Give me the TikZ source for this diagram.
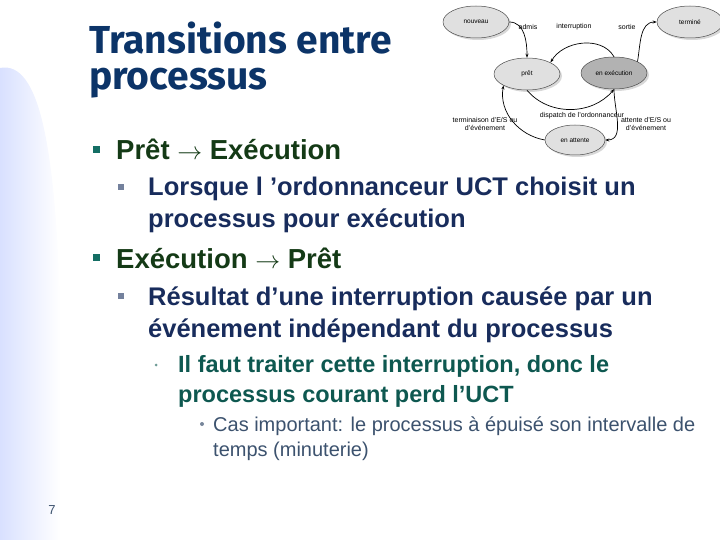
\documentclass[tikz,border=0pt]{standalone}
\usepackage{fontspec}
\setmainfont{Liberation Sans}
\newfontfamily\titlefont{Fira Sans}
\usetikzlibrary{shapes.geometric,arrows.meta,shadows}
\definecolor{titleblue}{RGB}{12,52,104}
\definecolor{lvlone}{RGB}{20,58,22}
\definecolor{lvltwo}{RGB}{24,44,92}
\definecolor{lvlthree}{RGB}{14,88,80}
\definecolor{lvlfour}{RGB}{60,82,110}
\definecolor{bulletgreen}{RGB}{20,110,100}
\tikzset{
  etat/.style={ellipse,draw=black!70,fill=black!12,line width=0.5pt,minimum width=66pt,minimum height=32pt,inner sep=0pt,font=\fontsize{6.5}{7}\selectfont,
    drop shadow={shadow xshift=2pt,shadow yshift=-2pt,fill=black!30}},
  trans/.style={-{Stealth[length=4pt]},line width=0.7pt},
  lbl/.style={font=\fontsize{7}{7.5}\selectfont,inner sep=1pt,align=center},
  lvlonetxt/.style={anchor=base west,font=\bfseries\fontsize{27.5}{30}\selectfont,text=lvlone,inner sep=0},
  lvltwotxt/.style={anchor=base west,font=\bfseries\fontsize{25.5}{30}\selectfont,text=lvltwo,inner sep=0},
  lvlthreetxt/.style={anchor=base west,font=\bfseries\fontsize{23.5}{28}\selectfont,text=lvlthree,inner sep=0},
  lvlfourtxt/.style={anchor=base west,font=\fontsize{20}{23}\selectfont,text=lvlfour,inner sep=0}
}
\begin{document}
\begin{tikzpicture}[x=1pt,y=-1pt]
\useasboundingbox (0,0) rectangle (720,540);
% left decoration
\shade[left color=cyan!20!blue!15,right color=white] (0,540) -- (0,68) .. controls (40,60) and (55,150) .. (60,300) -- (60,540) -- cycle;
% title
\node[anchor=north west,align=left,font=\titlefont\bfseries\fontsize{39}{36}\selectfont,text=titleblue,inner sep=0] (titre) at (89,22) {Transitions entre\\processus};
% state diagram
\node[etat] (nouveau) at (476,22) {nouveau};
\node[etat] (termine) at (690,22) {terminé};
\node[etat] (pret) at (527,74) {prêt};
\node[etat,fill=black!30] (exec) at (614,73) {en exécution};
\node[etat,minimum width=60pt,minimum height=30pt] (attente) at (575,140) {en attente};
\draw[trans] (nouveau.east) to[out=0,in=90] (pret.north);
\draw[trans] (exec.north) to[out=120,in=60] (pret.north east);
\draw[trans] (exec.north east) to[out=80,in=180] (termine.west);
\draw[trans] (pret.south) to[out=-50,in=-130] (exec.south);
\draw[trans] (exec.south) to[out=-90,in=0] (attente.east);
\draw[trans] (attente.west) to[out=170,in=-100] (pret.south west);
\node[lbl] (ladmis) at (528,27) {admis};
\node[lbl] (linter) at (574,27) {interruption};
\node[lbl] (lsortie) at (627,27) {sortie};
\node[lbl] (ldispatch) at (582,116) {dispatch de l'ordonnanceur};
\node[lbl] (lattente) at (646,124) {attente d'E/S ou\\d'événement};
\node[lbl] (lfin) at (485,124) {terminaison d'E/S ou\\d'événement};
% bullets
\node[lvlonetxt] (p1) at (116,160) {Prêt $\rightarrow$ Exécution};
\fill[bulletgreen] (93,146) rectangle (100,153);
\node[lvltwotxt] (p1a) at (148,196) {Lorsque l ’ordonnanceur UCT choisit un};
\node[lvltwotxt] (p1b) at (148,228) {processus pour exécution};
\fill[lvltwo!60] (118,184) rectangle (124,190);
\node[lvlonetxt] (p2) at (116,268) {Exécution $\rightarrow$ Prêt};
\fill[bulletgreen] (93,254) rectangle (100,261);
\node[lvltwotxt] (p2a) at (148,305) {Résultat d’une interruption causée par un};
\node[lvltwotxt] (p2b) at (148,337) {événement indépendant du processus};
\fill[lvltwo!60] (118,293) rectangle (124,299);
\node[lvlthreetxt] (p2c) at (178,372) {Il faut traiter cette interruption, donc le};
\node[lvlthreetxt] (p2d) at (178,402) {processus courant perd l’UCT};
\fill[lvlthree!60] (156,365) circle (1.5);
\node[lvlfourtxt] (p2e) at (213,431) {Cas important: le processus à épuisé son intervalle de};
\node[lvlfourtxt] (p2f) at (213,456) {temps (minuterie)};
\fill[lvlfour!70] (202,424) circle (2);
\node[font=\fontsize{13}{14}\selectfont,text=lvlfour] (num) at (52,510) {7};
\end{tikzpicture}
\end{document}
